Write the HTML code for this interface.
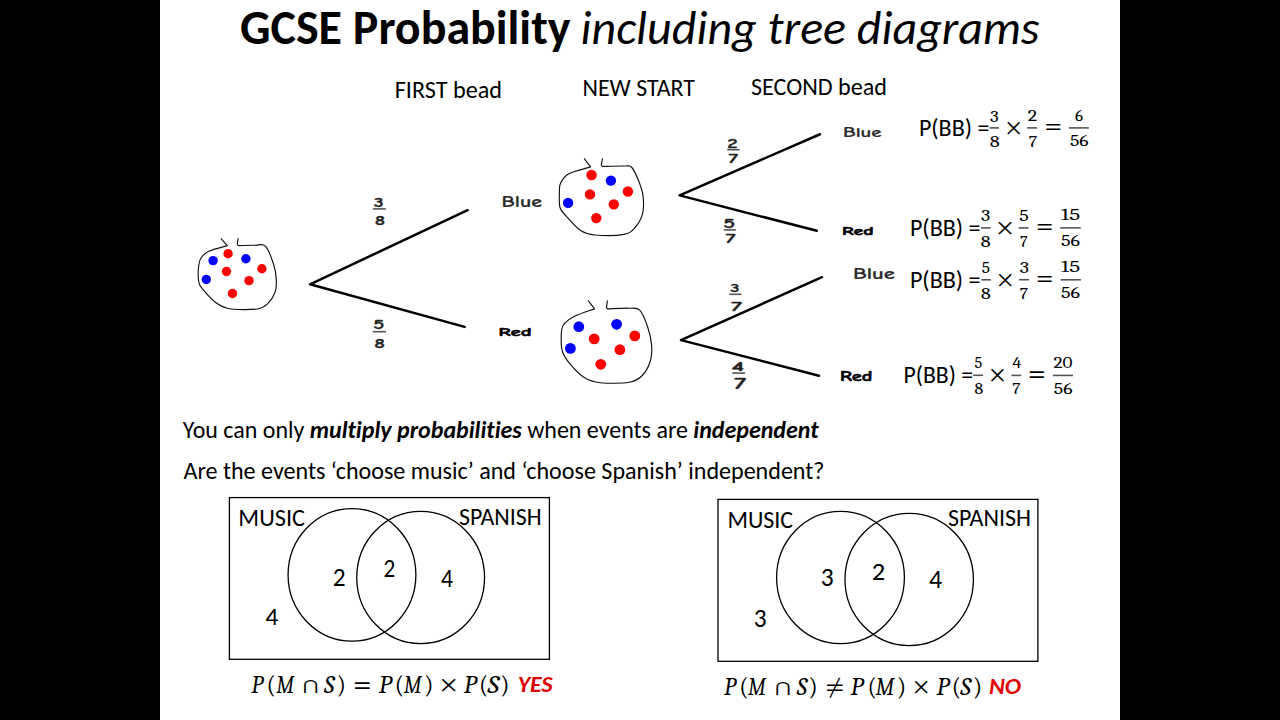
<!DOCTYPE html>
<html><head><meta charset="utf-8"><title>GCSE Probability including tree diagrams</title>
<style>
html,body{margin:0;padding:0;background:#000;width:1280px;height:720px;overflow:hidden}
svg{display:block}

.c{font-family:Carlito,"Liberation Sans",sans-serif;font-variant-ligatures:none;font-feature-settings:"liga" 0,"clig" 0}
.m{font-family:Caladea,"Liberation Serif",serif}
.s{font-family:"STIX Two Math",Caladea,"DejaVu Serif",serif}
.k{font-family:"Comic Neue","Comic Relief","Liberation Sans",sans-serif;font-weight:bold}
</style></head>
<body>
<svg width="1280" height="720" viewBox="0 0 1280 720">
<rect x="0" y="0" width="1280" height="720" fill="#000"/>
<rect x="160" y="0" width="960" height="720" fill="#fff"/>
<g stroke="#000" stroke-width="2.5" fill="none" stroke-linejoin="round" stroke-linecap="round">
<polyline points="467.6,210.2 310,284.3 464.6,326.9"/>
<polyline points="820,134.25 679.6,195.4 816.8,230.8"/>
<polyline points="822,277.2 681,340.1 819,375.8"/>
</g>
<g stroke="#111" stroke-width="1.15" fill="none" stroke-linejoin="round" stroke-linecap="round">
<path d="M221.3,238.8 L227.3,245.6 C224.2,246.6 213.1,249.3 208.8,251.3 C204.5,253.3 203.0,255.2 201.3,257.5 C199.6,259.8 199.3,261.2 198.8,265.0 C198.3,268.8 197.9,276.0 198.5,280.0 C199.1,284.0 199.3,284.8 202.5,288.8 C205.7,292.8 212.7,300.4 217.5,303.8 C222.3,307.2 224.6,308.1 231.3,309.0 C238.0,309.9 251.5,309.9 257.5,309.0 C263.5,308.1 264.6,306.6 267.5,303.8 C270.4,301.1 273.5,296.5 275.0,292.5 C276.5,288.5 276.5,284.6 276.3,280.0 C276.1,275.4 275.6,270.6 273.8,265.0 C272.0,259.4 268.7,249.6 265.6,246.3 C262.5,243.0 259.6,245.4 255.0,245.3 C250.4,245.2 240.9,245.6 238.1,245.6 L237.3,243.8 L238.1,238.5"/>
<path d="M584.4,158.8 L590.6,166.9 C587.0,168.1 573.8,171.1 568.8,173.8 C563.8,176.5 562.2,180.0 560.6,183.1 C559.0,186.2 559.5,188.4 559.4,192.5 C559.3,196.6 558.9,203.5 560.0,207.5 C561.1,211.5 562.9,212.5 566.3,216.3 C569.7,220.2 575.8,227.5 580.6,230.6 C585.4,233.7 587.8,234.4 595.0,235.0 C602.2,235.6 617.1,235.7 623.8,234.4 C630.5,233.2 631.9,230.9 635.0,227.5 C638.1,224.1 641.1,219.0 642.5,213.8 C643.9,208.6 643.7,201.7 643.1,196.3 C642.5,190.9 640.7,186.1 638.8,181.3 C636.9,176.5 634.2,170.1 631.9,167.5 C629.6,164.9 629.9,166.2 625.0,166.0 C620.1,165.8 606.2,166.4 602.5,166.5 L601.3,165.0 L602.5,158.8"/>
<path d="M588.3,300.9 L594.6,308.9 C591.4,310.1 580.3,313.4 575.1,316.1 C569.9,318.8 565.5,321.6 563.2,325.3 C560.9,329.0 561.3,334.1 561.2,338.5 C561.1,342.9 561.1,347.5 562.5,351.7 C563.9,355.9 566.2,359.3 569.8,363.6 C573.4,367.9 579.2,374.3 584.3,377.5 C589.3,380.7 592.6,381.9 600.1,382.7 C607.6,383.5 622.2,383.5 629.2,382.3 C636.2,381.1 638.8,379.1 642.3,375.5 C645.8,371.9 648.8,366.1 650.3,361.0 C651.8,355.9 652.0,350.8 651.6,345.1 C651.2,339.4 649.6,332.5 647.6,326.7 C645.6,320.9 642.8,313.3 639.7,310.2 C636.6,307.1 634.6,308.4 629.2,308.2 C623.8,308.0 611.0,308.8 607.4,308.9 L606.5,307.5 L607.4,300.9"/>
</g>
<g fill="#f00"><circle cx="228.1" cy="253.8" r="4.7"/><circle cx="226.5" cy="271.5" r="4.7"/><circle cx="261.9" cy="268.8" r="4.7"/><circle cx="249.0" cy="280.6" r="4.7"/><circle cx="232.5" cy="293.5" r="4.7"/><circle cx="591.6" cy="175.0" r="5.2"/><circle cx="590.0" cy="194.4" r="5.2"/><circle cx="627.9" cy="191.5" r="5.2"/><circle cx="613.8" cy="204.4" r="5.2"/><circle cx="596.3" cy="218.1" r="5.2"/><circle cx="594.2" cy="338.9" r="5.4"/><circle cx="634.8" cy="335.9" r="5.4"/><circle cx="619.9" cy="349.7" r="5.4"/><circle cx="600.8" cy="364.3" r="5.4"/></g>
<g fill="#00f"><circle cx="213.1" cy="260.6" r="4.7"/><circle cx="245.9" cy="258.8" r="4.7"/><circle cx="206.3" cy="279.5" r="4.7"/><circle cx="610.9" cy="180.6" r="5.2"/><circle cx="568.1" cy="202.9" r="5.2"/><circle cx="578.8" cy="326.7" r="5.4"/><circle cx="616.6" cy="324.3" r="5.4"/><circle cx="570.4" cy="348.4" r="5.4"/></g>
<g><line x1="372.8" y1="208.9" x2="385.8" y2="208.9" stroke="#555" stroke-width="1.6"/><line x1="372.8" y1="331.7" x2="386.0" y2="331.7" stroke="#555" stroke-width="1.6"/><line x1="727.2" y1="149.7" x2="739.7" y2="149.7" stroke="#555" stroke-width="1.6"/><line x1="723.8" y1="229.9" x2="735.9" y2="229.9" stroke="#555" stroke-width="1.6"/><line x1="729.2" y1="294.3" x2="741.4" y2="294.3" stroke="#555" stroke-width="1.6"/><line x1="732.3" y1="373.1" x2="745.1" y2="373.1" stroke="#555" stroke-width="1.6"/><line x1="989.5" y1="127.9" x2="999.0" y2="127.9" stroke="#555" stroke-width="1.6"/><line x1="1027.1" y1="127.9" x2="1037.1" y2="127.9" stroke="#555" stroke-width="1.6"/><line x1="1068.9" y1="127.9" x2="1088.9" y2="127.9" stroke="#555" stroke-width="1.6"/><line x1="981.0" y1="227.9" x2="990.7" y2="227.9" stroke="#555" stroke-width="1.6"/><line x1="1018.7" y1="227.9" x2="1028.5" y2="227.9" stroke="#555" stroke-width="1.6"/><line x1="1060.2" y1="227.9" x2="1080.7" y2="227.9" stroke="#555" stroke-width="1.6"/><line x1="981.3" y1="279.8" x2="990.8" y2="279.8" stroke="#555" stroke-width="1.6"/><line x1="1019.1" y1="279.7" x2="1029.0" y2="279.7" stroke="#555" stroke-width="1.6"/><line x1="1060.7" y1="279.8" x2="1080.9" y2="279.8" stroke="#555" stroke-width="1.6"/><line x1="973.2" y1="375.3" x2="983.1" y2="375.3" stroke="#555" stroke-width="1.6"/><line x1="1011.4" y1="375.4" x2="1021.2" y2="375.4" stroke="#555" stroke-width="1.6"/><line x1="1052.9" y1="375.4" x2="1073.0" y2="375.4" stroke="#555" stroke-width="1.6"/></g>
<g fill="none" stroke="#000" stroke-width="1.3">
<rect x="229.4" y="497.6" width="320" height="161.7"/>
<ellipse cx="351.98" cy="574.85" rx="63.9" ry="66.25"/>
<ellipse cx="420.65" cy="577.5" rx="63.9" ry="66.1"/>
<rect x="718.0" y="499.4" width="319.9" height="161.9"/>
<ellipse cx="840.5" cy="577.55" rx="63.9" ry="66.15"/>
<ellipse cx="909.2" cy="579.5" rx="64.2" ry="66.1"/>
</g>
<text class="c" x="239.99" y="44.00" font-size="48.00" textLength="330.51" lengthAdjust="spacingAndGlyphs" font-weight="bold">GCSE Probability</text>
<text class="c" x="580.49" y="44.00" font-size="48.00" textLength="459.02" lengthAdjust="spacingAndGlyphs" font-style="italic">including tree diagrams</text>
<text class="c" x="394.70" y="98.00" font-size="24.00" textLength="107.35" lengthAdjust="spacingAndGlyphs">FIRST bead</text>
<text class="c" x="582.47" y="95.90" font-size="24.00" textLength="112.53" lengthAdjust="spacingAndGlyphs">NEW START</text>
<text class="c" x="750.98" y="95.00" font-size="24.00" textLength="136.05" lengthAdjust="spacingAndGlyphs">SECOND bead</text>
<text class="c" x="182.75" y="437.90" font-size="24.00" textLength="635.75" lengthAdjust="spacingAndGlyphs">You can only <tspan font-weight="bold" font-style="italic">multiply probabilities</tspan> when events are <tspan font-weight="bold" font-style="italic">independent</tspan></text>
<text class="c" x="183.50" y="478.95" font-size="24.00" textLength="641.01" lengthAdjust="spacingAndGlyphs">Are the events ‘choose music’ and ‘choose Spanish’ independent?</text>
<text class="c" x="238.37" y="526.10" font-size="24.00" textLength="66.70" lengthAdjust="spacingAndGlyphs">MUSIC</text>
<text class="c" x="458.98" y="524.60" font-size="24.00" textLength="82.57" lengthAdjust="spacingAndGlyphs">SPANISH</text>
<text class="c" x="727.41" y="528.00" font-size="24.00" textLength="65.64" lengthAdjust="spacingAndGlyphs">MUSIC</text>
<text class="c" x="947.96" y="526.25" font-size="24.00" textLength="83.08" lengthAdjust="spacingAndGlyphs">SPANISH</text>
<text class="c" x="332.77" y="585.51" font-size="26.46" textLength="12.89" lengthAdjust="spacingAndGlyphs">2</text>
<text class="c" x="383.38" y="576.99" font-size="26.17" textLength="11.72" lengthAdjust="spacingAndGlyphs">2</text>
<text class="c" x="441.00" y="586.52" font-size="25.85" textLength="12.04" lengthAdjust="spacingAndGlyphs">4</text>
<text class="c" x="265.49" y="625.00" font-size="24.30" textLength="12.82" lengthAdjust="spacingAndGlyphs">4</text>
<text class="c" x="820.77" y="585.99" font-size="26.17" textLength="12.89" lengthAdjust="spacingAndGlyphs">3</text>
<text class="c" x="871.71" y="579.50" font-size="24.61" textLength="13.49" lengthAdjust="spacingAndGlyphs">2</text>
<text class="c" x="928.94" y="587.50" font-size="25.85" textLength="13.15" lengthAdjust="spacingAndGlyphs">4</text>
<text class="c" x="753.82" y="627.00" font-size="25.85" textLength="12.84" lengthAdjust="spacingAndGlyphs">3</text>
<text class="c" x="517.68" y="691.50" font-size="22.05" textLength="34.88" lengthAdjust="spacingAndGlyphs" font-weight="bold" font-style="italic" fill="#e00000">YES</text>
<text class="c" x="988.95" y="694.18" font-size="21.75" textLength="32.09" lengthAdjust="spacingAndGlyphs" font-weight="bold" font-style="italic" fill="#e00000">NO</text>
<text class="m" x="251.23" y="692.50" font-size="24.00" textLength="11.87" lengthAdjust="spacingAndGlyphs" font-style="italic">P</text>
<text class="m" x="266.50" y="692.50" font-size="24.00">(</text>
<text class="m" x="276.22" y="692.50" font-size="24.00" textLength="17.83" lengthAdjust="spacingAndGlyphs" font-style="italic">M</text>
<text class="m" x="302.39" y="692.63" font-size="19.56" textLength="16.40" lengthAdjust="spacingAndGlyphs">∩</text>
<text class="m" x="324.00" y="692.50" font-size="24.00" textLength="10.34" lengthAdjust="spacingAndGlyphs" font-style="italic">S</text>
<text class="m" x="336.75" y="692.50" font-size="24.00">)</text>
<text class="s" x="353.53" y="691.84" font-size="24.22" textLength="17.62" lengthAdjust="spacingAndGlyphs">=</text>
<text class="m" x="378.72" y="692.50" font-size="24.00" textLength="12.93" lengthAdjust="spacingAndGlyphs" font-style="italic">P</text>
<text class="m" x="394.75" y="692.50" font-size="24.00">(</text>
<text class="m" x="403.76" y="692.50" font-size="24.00" textLength="17.78" lengthAdjust="spacingAndGlyphs" font-style="italic">M</text>
<text class="m" x="424.20" y="692.50" font-size="24.00">)</text>
<text class="s" x="439.88" y="691.22" font-size="22.98" textLength="17.66" lengthAdjust="spacingAndGlyphs">×</text>
<text class="m" x="463.72" y="692.50" font-size="24.00" textLength="12.93" lengthAdjust="spacingAndGlyphs" font-style="italic">P</text>
<text class="m" x="479.00" y="692.50" font-size="24.00">(</text>
<text class="m" x="487.42" y="692.50" font-size="24.00" textLength="11.64" lengthAdjust="spacingAndGlyphs" font-style="italic">S</text>
<text class="m" x="500.25" y="692.50" font-size="24.00">)</text>
<text class="m" x="723.97" y="694.50" font-size="24.00" textLength="11.94" lengthAdjust="spacingAndGlyphs" font-style="italic">P</text>
<text class="m" x="739.25" y="694.50" font-size="24.00">(</text>
<text class="m" x="747.98" y="694.50" font-size="24.00" textLength="17.78" lengthAdjust="spacingAndGlyphs" font-style="italic">M</text>
<text class="m" x="774.56" y="694.63" font-size="19.56" textLength="16.50" lengthAdjust="spacingAndGlyphs">∩</text>
<text class="m" x="796.73" y="694.50" font-size="24.00" textLength="10.34" lengthAdjust="spacingAndGlyphs" font-style="italic">S</text>
<text class="m" x="808.50" y="694.50" font-size="24.00">)</text>
<text class="s" x="825.25" y="693.70" font-size="24.00" textLength="18.80" lengthAdjust="spacingAndGlyphs">≠</text>
<text class="m" x="850.45" y="694.50" font-size="24.00" textLength="12.86" lengthAdjust="spacingAndGlyphs" font-style="italic">P</text>
<text class="m" x="867.50" y="694.50" font-size="24.00">(</text>
<text class="m" x="875.47" y="694.50" font-size="24.00" textLength="18.77" lengthAdjust="spacingAndGlyphs" font-style="italic">M</text>
<text class="m" x="896.95" y="694.50" font-size="24.00">)</text>
<text class="s" x="912.89" y="693.22" font-size="22.98" textLength="16.30" lengthAdjust="spacingAndGlyphs">×</text>
<text class="m" x="936.51" y="694.50" font-size="24.00" textLength="12.86" lengthAdjust="spacingAndGlyphs" font-style="italic">P</text>
<text class="m" x="951.75" y="694.50" font-size="24.00">(</text>
<text class="m" x="960.23" y="694.50" font-size="24.00" textLength="10.69" lengthAdjust="spacingAndGlyphs" font-style="italic">S</text>
<text class="m" x="973.00" y="694.50" font-size="24.00">)</text>
<text class="c" x="918.89" y="135.91" font-size="24.56" textLength="70.67" lengthAdjust="spacingAndGlyphs">P(BB) =</text>
<text class="c" x="909.91" y="235.91" font-size="24.56" textLength="70.62" lengthAdjust="spacingAndGlyphs">P(BB) =</text>
<text class="c" x="909.91" y="287.91" font-size="24.56" textLength="70.62" lengthAdjust="spacingAndGlyphs">P(BB) =</text>
<text class="c" x="903.46" y="382.89" font-size="24.56" textLength="69.58" lengthAdjust="spacingAndGlyphs">P(BB) =</text>
<text class="m" x="989.91" y="121.60" font-size="15.50" textLength="8.63" lengthAdjust="spacingAndGlyphs">3</text>
<text class="m" x="989.85" y="146.70" font-size="15.50" textLength="9.88" lengthAdjust="spacingAndGlyphs">8</text>
<text class="m" x="1027.82" y="121.00" font-size="15.50" textLength="9.35" lengthAdjust="spacingAndGlyphs">2</text>
<text class="m" x="1028.80" y="147.20" font-size="15.50" textLength="8.39" lengthAdjust="spacingAndGlyphs">7</text>
<text class="m" x="1075.00" y="121.20" font-size="15.50" textLength="8.06" lengthAdjust="spacingAndGlyphs">6</text>
<text class="m" x="1069.95" y="146.40" font-size="15.50" textLength="18.59" lengthAdjust="spacingAndGlyphs">56</text>
<text class="m" x="980.91" y="220.80" font-size="15.50" textLength="9.24" lengthAdjust="spacingAndGlyphs">3</text>
<text class="m" x="980.88" y="247.00" font-size="15.50" textLength="9.81" lengthAdjust="spacingAndGlyphs">8</text>
<text class="m" x="1019.35" y="221.10" font-size="15.50" textLength="9.43" lengthAdjust="spacingAndGlyphs">5</text>
<text class="m" x="1019.90" y="247.20" font-size="15.50" textLength="7.71" lengthAdjust="spacingAndGlyphs">7</text>
<text class="m" x="1060.86" y="220.10" font-size="15.50" textLength="19.30" lengthAdjust="spacingAndGlyphs">15</text>
<text class="m" x="1060.98" y="246.40" font-size="15.50" textLength="19.08" lengthAdjust="spacingAndGlyphs">56</text>
<text class="m" x="981.87" y="272.70" font-size="15.50" textLength="8.23" lengthAdjust="spacingAndGlyphs">5</text>
<text class="m" x="980.92" y="299.40" font-size="15.50" textLength="9.62" lengthAdjust="spacingAndGlyphs">8</text>
<text class="m" x="1019.89" y="273.10" font-size="15.50" textLength="9.19" lengthAdjust="spacingAndGlyphs">3</text>
<text class="m" x="1019.87" y="299.20" font-size="15.50" textLength="8.26" lengthAdjust="spacingAndGlyphs">7</text>
<text class="m" x="1060.86" y="272.10" font-size="15.50" textLength="19.30" lengthAdjust="spacingAndGlyphs">15</text>
<text class="m" x="1060.98" y="298.40" font-size="15.50" textLength="19.08" lengthAdjust="spacingAndGlyphs">56</text>
<text class="m" x="974.47" y="367.60" font-size="15.50" textLength="7.71" lengthAdjust="spacingAndGlyphs">5</text>
<text class="m" x="974.41" y="394.00" font-size="15.50" textLength="8.65" lengthAdjust="spacingAndGlyphs">8</text>
<text class="m" x="1012.48" y="368.30" font-size="15.50" textLength="8.62" lengthAdjust="spacingAndGlyphs">4</text>
<text class="m" x="1012.30" y="394.20" font-size="15.50" textLength="8.26" lengthAdjust="spacingAndGlyphs">7</text>
<text class="m" x="1053.47" y="367.50" font-size="15.50" textLength="19.08" lengthAdjust="spacingAndGlyphs">20</text>
<text class="m" x="1053.89" y="393.70" font-size="15.50" textLength="18.66" lengthAdjust="spacingAndGlyphs">56</text>
<text class="s" x="1005.51" y="134.03" font-size="22.90" textLength="16.30" lengthAdjust="spacingAndGlyphs">×</text>
<text class="s" x="1044.83" y="133.43" font-size="22.83" textLength="16.96" lengthAdjust="spacingAndGlyphs">=</text>
<text class="s" x="996.52" y="234.03" font-size="22.90" textLength="16.97" lengthAdjust="spacingAndGlyphs">×</text>
<text class="s" x="1036.38" y="233.43" font-size="22.83" textLength="16.76" lengthAdjust="spacingAndGlyphs">=</text>
<text class="s" x="997.08" y="286.03" font-size="22.90" textLength="16.37" lengthAdjust="spacingAndGlyphs">×</text>
<text class="s" x="1036.38" y="285.43" font-size="22.83" textLength="16.76" lengthAdjust="spacingAndGlyphs">=</text>
<text class="s" x="989.13" y="381.00" font-size="22.90" textLength="16.29" lengthAdjust="spacingAndGlyphs">×</text>
<text class="s" x="1028.21" y="381.01" font-size="23.50" textLength="16.96" lengthAdjust="spacingAndGlyphs">=</text>
<text class="k" x="373.88" y="206.51" font-size="13.99" textLength="9.85" lengthAdjust="spacingAndGlyphs" stroke="#222" stroke-width="0.3" fill="#222">3</text>
<text class="k" x="374.80" y="224.50" font-size="13.59" textLength="10.46" lengthAdjust="spacingAndGlyphs" stroke="#222" stroke-width="0.3" fill="#222">8</text>
<text class="k" x="373.19" y="329.00" font-size="14.19" textLength="11.08" lengthAdjust="spacingAndGlyphs" stroke="#222" stroke-width="0.3" fill="#222">5</text>
<text class="k" x="374.32" y="347.96" font-size="13.20" textLength="10.74" lengthAdjust="spacingAndGlyphs" stroke="#222" stroke-width="0.3" fill="#222">8</text>
<text class="k" x="727.32" y="147.96" font-size="13.77" textLength="10.37" lengthAdjust="spacingAndGlyphs" stroke="#222" stroke-width="0.3" fill="#222">2</text>
<text class="k" x="728.49" y="162.52" font-size="13.39" textLength="9.57" lengthAdjust="spacingAndGlyphs" stroke="#222" stroke-width="0.3" fill="#222">7</text>
<text class="k" x="723.37" y="227.54" font-size="13.77" textLength="11.89" lengthAdjust="spacingAndGlyphs" stroke="#222" stroke-width="0.3" fill="#222">5</text>
<text class="k" x="725.43" y="243.48" font-size="14.35" textLength="10.10" lengthAdjust="spacingAndGlyphs" stroke="#222" stroke-width="0.3" fill="#222">7</text>
<text class="k" x="730.37" y="291.51" font-size="12.77" textLength="9.22" lengthAdjust="spacingAndGlyphs" stroke="#222" stroke-width="0.3" fill="#222">3</text>
<text class="k" x="730.94" y="310.89" font-size="14.36" textLength="11.06" lengthAdjust="spacingAndGlyphs" stroke="#222" stroke-width="0.3" fill="#222">7</text>
<text class="k" x="731.41" y="370.97" font-size="13.72" textLength="12.66" lengthAdjust="spacingAndGlyphs" stroke="#222" stroke-width="0.3" fill="#222">4</text>
<text class="k" x="733.94" y="389.45" font-size="16.12" textLength="12.14" lengthAdjust="spacingAndGlyphs" stroke="#222" stroke-width="0.3" fill="#222">7</text>
<text class="k" x="501.42" y="207.02" font-size="16.55" textLength="40.59" lengthAdjust="spacingAndGlyphs" stroke="#2a2a2a" stroke-width="0.2" fill="#2a2a2a">Blue</text>
<text class="k" x="498.40" y="336.04" font-size="12.16" textLength="33.15" lengthAdjust="spacingAndGlyphs" stroke="#000" stroke-width="0.55" fill="#000">Red</text>
<text class="k" x="842.94" y="137.00" font-size="14.00" textLength="38.60" lengthAdjust="spacingAndGlyphs" stroke="#2a2a2a" stroke-width="0.2" fill="#2a2a2a">Blue</text>
<text class="k" x="841.94" y="235.00" font-size="11.64" textLength="31.62" lengthAdjust="spacingAndGlyphs" stroke="#000" stroke-width="0.55" fill="#000">Red</text>
<text class="k" x="852.90" y="279.06" font-size="15.74" textLength="42.10" lengthAdjust="spacingAndGlyphs" stroke="#2a2a2a" stroke-width="0.2" fill="#2a2a2a">Blue</text>
<text class="k" x="839.94" y="381.49" font-size="14.19" textLength="32.57" lengthAdjust="spacingAndGlyphs" stroke="#000" stroke-width="0.55" fill="#000">Red</text>
</svg>
</body></html>
